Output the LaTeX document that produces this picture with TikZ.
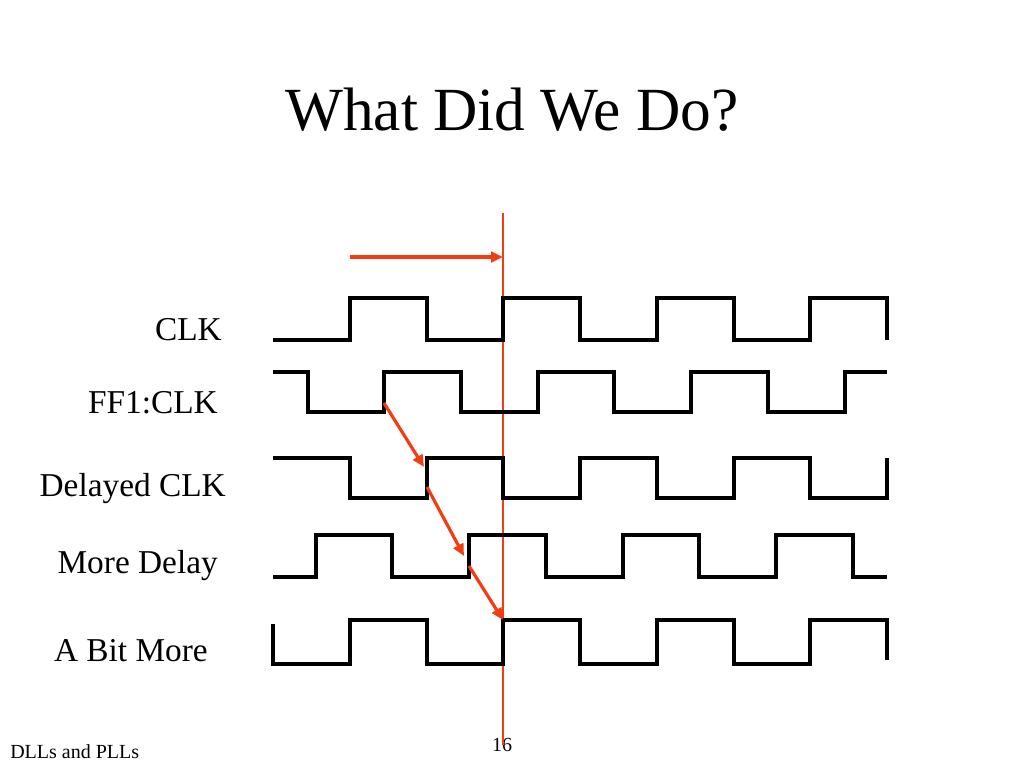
\documentclass[tikz,border=0pt]{standalone}
\usepackage{fontspec}
\setmainfont{Liberation Serif}
\usetikzlibrary{arrows.meta}
\definecolor{rd}{HTML}{F23D12}
\begin{document}
\begin{tikzpicture}[x=0.75pt,y=-0.75pt,
  wave/.style={line width=2.4pt,black,line join=miter},
  rarr/.style={rd,line width=2.4pt,-{Triangle[length=9pt,width=8pt]}},
  lbl/.style={anchor=east,font=\fontsize{25}{30}\selectfont},
  inner sep=0pt]
\useasboundingbox (0,0) rectangle (1024,768);
\node (title) at (512,110) {\fontsize{46}{52}\selectfont What Did We Do?};
\node[anchor=west] (foot) at (10,752) {\fontsize{15}{18}\selectfont DLLs and PLLs};
\node (pg) at (502,745) {\fontsize{15}{18}\selectfont 16};
\draw[rd,line width=0.8pt] (503,213) -- (503,745);
\coordinate (ra) at (350,257); \coordinate (rb) at (503,257);
\draw[rarr] (ra) -- (rb);
\node[lbl] (l1) at (222,330) {CLK};
\node[lbl] (l2) at (218,403) {FF1:CLK};
\node[lbl] (l3) at (226,489) {Delayed CLK};
\node[lbl] (l4) at (218,566) {More Delay};
\node[lbl] (l5) at (208,651) {A Bit More};
% CLK
\draw[wave] (273,340) -- (350,340) |- (427,298) |- (503,340) |- (580,298) |- (657,340) |- (734,298) |- (810,340) |- (887,298) -- (887,340);
% FF1
\draw[wave] (273,372) -- (308,372) |- (384,412) |- (461,372) |- (538,412) |- (614,372) |- (691,412) |- (768,372) |- (845,412) |- (887,372);
% Delayed
\draw[wave] (273,458) -- (350,458) |- (427,498) |- (503,458) |- (580,498) |- (657,458) |- (734,498) |- (810,458) |- (887,498) -- (887,458);
% More delay
\draw[wave] (273,577) -- (316,577) |- (392,535) |- (469,577) |- (546,535) |- (623,577) |- (699,535) |- (776,577) |- (853,535) |- (887,577);
% A bit more
\draw[wave] (273,624) -- (273,664) -- (350,664) |- (427,620) |- (503,664) |- (580,620) |- (657,664) |- (734,620) |- (810,664) |- (887,620) -- (887,660);
\coordinate (a1) at (384,403); \coordinate (a2) at (424,467);
\coordinate (b1) at (427,487); \coordinate (b2) at (464,556);
\coordinate (c1) at (469,566); \coordinate (c2) at (503,620);
\draw[rarr] (a1) -- (a2);
\draw[rarr] (b1) -- (b2);
\draw[rarr] (c1) -- (c2);
\end{tikzpicture}
\end{document}
